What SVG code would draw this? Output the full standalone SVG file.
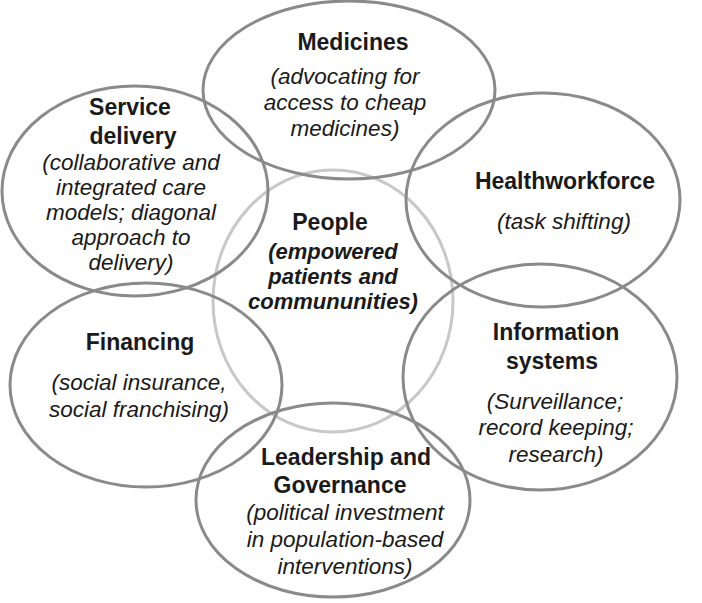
<svg xmlns="http://www.w3.org/2000/svg" width="702" height="603" viewBox="0 0 702 603">
<style>
.e{fill:none;stroke:#8a8a8a;stroke-width:3}
.p{fill:none;stroke:#c8c8c8;stroke-width:3}
text{font-family:"Liberation Sans",Arial,sans-serif;font-size:22.5px;fill:#1a1a1a;text-anchor:middle}
.b{font-weight:bold;font-size:23px}
.i{font-style:italic}
.bi{font-size:22px}
</style>
<rect width="702" height="603" fill="#fff"/>
<g id="people"><ellipse class="p" cx="333" cy="301" rx="120" ry="131"/>
<text class="b" x="330" y="230">People</text>
<text class="b i bi" x="333" y="259">(empowered</text>
<text class="b i bi" x="333" y="284">patients and</text>
<text class="b i bi" x="333" y="309">commununities)</text></g>
<g id="medicines"><ellipse class="e" cx="349" cy="90" rx="146" ry="89"/>
<text class="b" x="353" y="50">Medicines</text>
<text class="i" x="345" y="84">(advocating for</text>
<text class="i" x="345" y="110">access to cheap</text>
<text class="i" x="345" y="136">medicines)</text></g>
<g id="service"><ellipse class="e" cx="135" cy="191" rx="133" ry="105"/>
<text class="b" x="130" y="115">Service</text>
<text class="b" x="133" y="144">delivery</text>
<text class="i" x="131" y="170">(collaborative and</text>
<text class="i" x="131" y="195">integrated care</text>
<text class="i" x="131" y="220">models; diagonal</text>
<text class="i" x="131" y="245">approach to</text>
<text class="i" x="131" y="270">delivery)</text></g>
<g id="health"><ellipse class="e" cx="543" cy="200" rx="137" ry="107"/>
<text class="b" x="565" y="189">Healthworkforce</text>
<text class="i" x="564" y="229">(task shifting)</text></g>
<g id="financing"><ellipse class="e" cx="146" cy="385" rx="136" ry="102"/>
<text class="b" x="140" y="350">Financing</text>
<text class="i" x="139" y="390">(social insurance,</text>
<text class="i" x="139" y="417">social franchising)</text></g>
<g id="info"><ellipse class="e" cx="540" cy="377" rx="137" ry="113"/>
<text class="b" x="556" y="340">Information</text>
<text class="b" x="552" y="369">systems</text>
<text class="i" x="555" y="409">(Surveillance;</text>
<text class="i" x="556" y="435">record keeping;</text>
<text class="i" x="556" y="462">research)</text></g>
<g id="leadership"><ellipse class="e" cx="333" cy="500" rx="137" ry="97"/>
<text class="b" x="346" y="465">Leadership and</text>
<text class="b" x="340" y="493">Governance</text>
<text class="i" x="345" y="520">(political investment</text>
<text class="i" x="345" y="547">in population-based</text>
<text class="i" x="345" y="574">interventions)</text></g>
<g id="connectors"/>
</svg>
